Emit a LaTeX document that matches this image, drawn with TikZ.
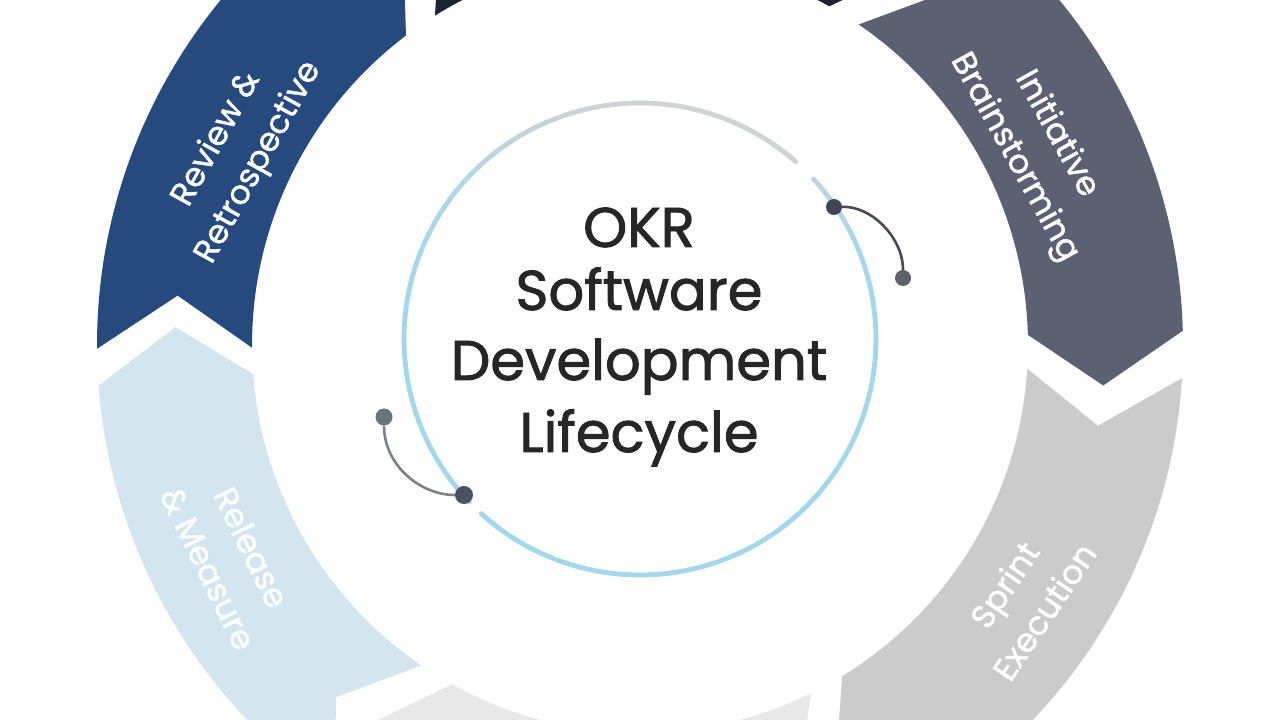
\documentclass[tikz,border=0pt]{standalone}
\usepackage{fontspec}
\setmainfont{Poppins}
\newfontfamily\titlefont{Poppins}[BoldFont={Poppins}, BoldFeatures={FakeBold=1.6}]
\newfontfamily\segfont{Poppins}[BoldFont={Poppins}, BoldFeatures={FakeBold=1.2}]
\definecolor{navyseg}{HTML}{264A7E}
\definecolor{topseg}{HTML}{1C2236}
\definecolor{slateseg}{HTML}{5B6173}
\definecolor{grayseg}{HTML}{CBCBCB}
\definecolor{botseg}{HTML}{E8E8E8}
\definecolor{lblueseg}{HTML}{D3E5EE}
\definecolor{ringgray}{RGB}{208,210,212}
\definecolor{ringblue}{RGB}{165,215,235}
\definecolor{titlecol}{HTML}{262626}
\definecolor{dotdark}{HTML}{3F4552}
\definecolor{dotmid}{HTML}{5C616B}
\definecolor{dotlight}{HTML}{6C727C}
\definecolor{dotblue}{HTML}{4A5261}
\definecolor{linkdark}{HTML}{454A55}
\definecolor{linklight}{HTML}{7D8088}
% #1 colour, #2 counter-clockwise end angle, #3 clockwise end angle
\newcommand\ringseg[3]{%
  \fill[#1] (#2:543) arc[start angle=#2, end angle=#3, radius=543]
    -- ({#3-6.5}:465) -- (#3:388)
    arc[start angle=#3, end angle=#2, radius=388]
    -- ({#2-6.5}:465) -- cycle;}
\tikzset{
  segtext/.style={text=white, align=center, inner sep=0pt,
    font=\segfont\bfseries\fontsize{33}{48}\selectfont},
  titletext/.style={text=titlecol, anchor=base, inner sep=0pt,
    font=\titlefont\bfseries\fontsize{56}{68}\selectfont},
  dotn/.style={circle, inner sep=0pt, minimum size=16},
  linkline/.style={line width=2.6}
}
\begin{document}
\begin{tikzpicture}[x=1pt,y=1pt]
\useasboundingbox (0,0) rectangle (1280,720);
\clip (0,0) rectangle (1280,720);
\fill[white] (0,0) rectangle (1280,720);

% ring of chevron segments
\begin{scope}[shift={(640,375)}]
  \ringseg{slateseg}{55.7}{1.5}
  \ringseg{topseg}{121.9}{60.8}
  \ringseg{navyseg}{180.4}{127.1}
  \ringseg{lblueseg}{235.7}{184.3}
  \ringseg{botseg}{296.2}{241}
  \ringseg{grayseg}{356.5}{301.4}
\end{scope}

% segment labels
\node[segtext, rotate=-61] (tInit) at (1035,574) {Initiative\\Brainstorming};
\node[segtext, rotate=61] (tRev) at (238,569) {Review \&\\Retrospective};
\node[segtext, rotate=-64] (tRel) at (230,162) {Release\\\& Measure};
\node[segtext, rotate=56] (tSpr) at (1024,122) {Sprint\\Execution};

% central circle with gradient arcs
\begin{scope}[shift={(640,381)}]
  \foreach \i in {0,...,69}{
    \pgfmathsetmacro\sa{48.7+\i*2.5}
    \pgfmathsetmacro\ea{\sa+2.5}
    \pgfmathsetmacro\p{max(0,min(100,(\sa-95)/70*100))}
    \draw[line width=4.8, line cap=round, color=ringblue!\p!ringgray]
      (\sa:236) arc[start angle=\sa, end angle=\ea, radius=236];
  }
  \foreach \i in {0,...,69}{
    \pgfmathsetmacro\sa{42.7-\i*2.5}
    \pgfmathsetmacro\ea{\sa-2.5}
    \pgfmathsetmacro\p{max(0,min(100,40+(42.7-\sa)*2.5))}
    \draw[line width=4.8, line cap=round, color=ringblue!\p!ringgray]
      (\sa:236) arc[start angle=\sa, end angle=\ea, radius=236];
  }
\end{scope}

% title
\node[titletext] (tOKR) at (639,473) {OKR};
\node[titletext] (tSoft) at (639,410) {Software};
\node[titletext] (tDev) at (639,340) {Development};
\node[titletext] (tLife) at (639,268) {Lifecycle};

% connector dots
\node[dotn, fill=dotdark] (d1) at (834,513) {};
\node[dotn, fill=dotmid] (d2) at (903,442) {};
\node[dotn, fill=dotlight, minimum size=17] (dA) at (384,303) {};
\node[dotn, fill=dotblue, minimum size=18] (dB) at (464,225) {};
\draw[linkline, color=linkdark] (d1) .. controls (872,514) and (903,482) .. (d2);
\draw[linkline, color=linklight] (dA) .. controls (384,255) and (420,225) .. (dB);
\end{tikzpicture}
\end{document}
